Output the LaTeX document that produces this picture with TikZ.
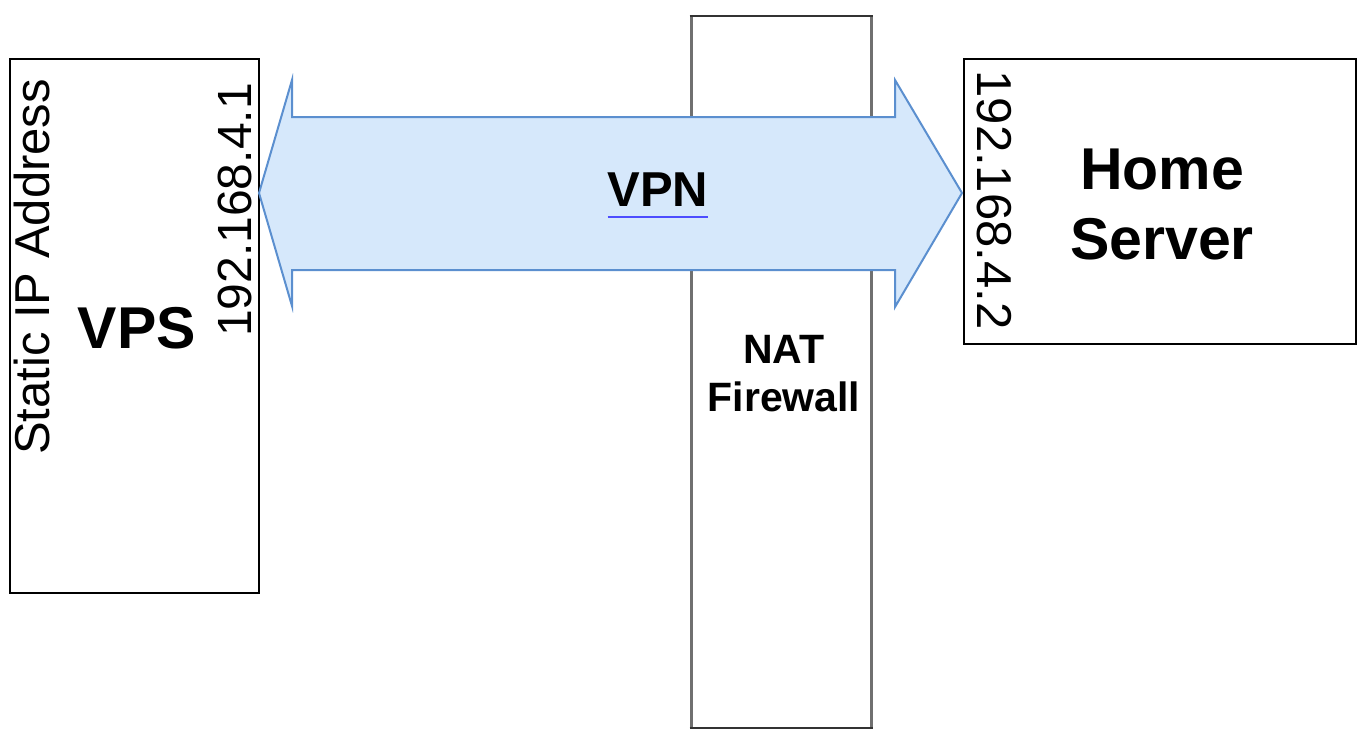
\documentclass[tikz,border=0pt]{standalone}
\usepackage{fontspec}
\setmainfont{Liberation Sans}
\definecolor{arrowfill}{HTML}{D6E8FB}
\definecolor{arrowline}{HTML}{5B8FCF}
\definecolor{fwgray}{HTML}{707070}
\definecolor{ulblue}{HTML}{4D4DFF}
\begin{document}
\begin{tikzpicture}[x=1pt,y=-1pt,
  box/.style={draw=black, line width=2.5pt, fill=white, inner sep=0pt, outer sep=0pt},
  label/.style={inner sep=0pt, outer sep=0pt, text=black},
  vpnarrow/.style={draw=arrowline, fill=arrowfill, line width=2pt, line join=miter},
]
\useasboundingbox (0,0) rectangle (1358,731);
% boxes
\node[box, minimum width=249pt, minimum height=534pt] (vps) at (134.5,326) {};
\node[box, minimum width=392pt, minimum height=285pt] (home) at (1160,201.5) {};
\node[inner sep=0pt, outer sep=0pt, minimum width=180pt, minimum height=712pt, fill=white] (fw) at (781,372) {};
\draw[fwgray, line width=3pt] (fw.north west) -- (fw.south west);
\draw[fwgray, line width=3pt] (fw.north east) -- (fw.south east);
\draw[black!80, line width=2.5pt] ([xshift=-1.5pt]fw.north west) -- ([xshift=1.5pt]fw.north east);
\draw[black!80, line width=2.5pt] ([xshift=-1.5pt]fw.south west) -- ([xshift=1.5pt]fw.south east);
% arrow (connector between VPS and Home server)
\coordinate (tipL) at (vps.east |- 0,193);
\coordinate (tipR) at ([xshift=-2pt]home.west |- 0,193);
\draw[vpnarrow] (tipL) -- (292,80) -- (292,117) -- (895,117) -- (895,80) -- (tipR)
  -- (895,307) -- (895,270) -- (292,270) -- (292,306) -- cycle;
% texts
\node[label, rotate=90, font=\fontsize{49}{56}\selectfont] (sip) at (32,267) {Static IP Address};
\node[label, rotate=90, font=\fontsize{48}{56}\selectfont] (ip1) at (235,210) {192.168.4.1};
\node[label, font=\fontsize{59}{66}\selectfont\bfseries] (vpst) at (137,328) {VPS};
\node[label, rotate=-90, font=\fontsize{49}{56}\selectfont] (ip2) at (994,200) {192.168.4.2};
\node[label, align=center, font=\fontsize{59}{70}\selectfont\bfseries] (homet) at (1162,204) {Home\\Server};
\node[label, align=center, font=\fontsize{41}{48}\selectfont\bfseries] (fwt) at (784,374) {NAT\\Firewall};
\node[label, font=\fontsize{49}{56}\selectfont\bfseries] (vpn) at (658,190) {VPN};
\draw[ulblue, line width=2.5pt] ([yshift=-10pt]vpn.base west) -- ([yshift=-10pt]vpn.base east);
\end{tikzpicture}
\end{document}
